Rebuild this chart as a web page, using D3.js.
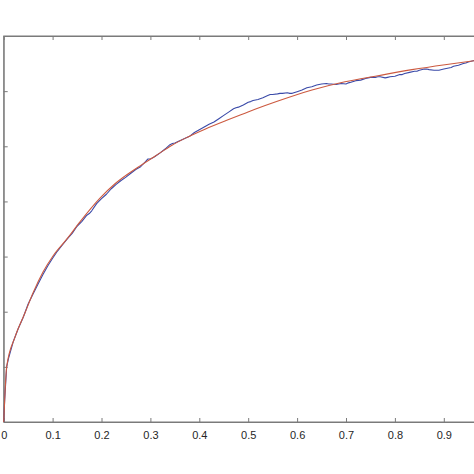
<!DOCTYPE html>
<html>
<head>
<meta charset="utf-8">
<script src="https://cdn.jsdelivr.net/npm/d3@7"></script>
<style>
  html, body { margin: 0; padding: 0; background: #fff; overflow: hidden; }
  svg { display: block; }
</style>
</head>
<body>
<svg id="chart" width="474" height="474"></svg>
<script>
// ---- data ----
const xTicks = [0, 0.1, 0.2, 0.3, 0.4, 0.5, 0.6, 0.7, 0.8, 0.9];
const xTickLabels = ["0", "0.1", "0.2", "0.3", "0.4", "0.5", "0.6", "0.7", "0.8", "0.9"];
const yTicks = [0, 1, 2, 3, 4, 5, 6, 7];

// fitted (smooth, red) curve
const fitX = [0, 0.002, 0.0061, 0.0231, 0.0436, 0.0599, 0.0804, 0.1008, 0.1294, 0.156, 0.1969,
  0.2276, 0.2746, 0.3094, 0.3441, 0.3769, 0.4116, 0.4587, 0.4935, 0.5139, 0.5609, 0.6305,
  0.6979, 0.7654, 0.8349, 0.9024, 0.9618, 0.98];
const fitY = [0, 0.40, 1.00, 1.54, 1.98, 2.34, 2.72, 3.01, 3.32, 3.63, 4.06,
  4.32, 4.62, 4.82, 5.02, 5.17, 5.31, 5.48, 5.60, 5.67, 5.82, 6.02,
  6.17, 6.28, 6.39, 6.48, 6.55, 6.57];

// measured (noisy, blue) curve
const measX = [0, 0.002, 0.006, 0.01, 0.02, 0.03, 0.04, 0.05, 0.06, 0.07, 0.08, 0.09,
  0.10, 0.11, 0.12, 0.13, 0.14, 0.15, 0.16, 0.17, 0.175, 0.18, 0.19, 0.20, 0.21, 0.22, 0.23,
  0.24, 0.25, 0.26, 0.27, 0.28, 0.29, 0.295, 0.30, 0.305, 0.31, 0.32, 0.33, 0.34, 0.345, 0.35,
  0.36, 0.37, 0.38, 0.39, 0.40, 0.41, 0.42, 0.43, 0.44, 0.45, 0.46, 0.47, 0.475, 0.48, 0.49,
  0.50, 0.505, 0.51, 0.52, 0.53, 0.54, 0.545, 0.55, 0.56, 0.565, 0.57, 0.58, 0.585, 0.59, 0.60,
  0.61, 0.62, 0.63, 0.64, 0.65, 0.66, 0.665, 0.67, 0.68, 0.685, 0.69, 0.70, 0.705, 0.71, 0.72,
  0.73, 0.74, 0.745, 0.75, 0.76, 0.765, 0.77, 0.78, 0.785, 0.79, 0.80, 0.81, 0.815, 0.82, 0.83,
  0.84, 0.845, 0.85, 0.86, 0.865, 0.87, 0.88, 0.885, 0.89, 0.90, 0.91, 0.915, 0.92, 0.93,
  0.94, 0.945, 0.95, 0.96, 0.97];
const measY = [0, 0.40, 1.00, 1.16, 1.47, 1.70, 1.90, 2.14, 2.32, 2.50, 2.67, 2.83,
  2.97, 3.10, 3.21, 3.32, 3.42, 3.55, 3.64, 3.75, 3.78, 3.83, 3.96, 4.05, 4.13, 4.23, 4.31,
  4.38, 4.44, 4.51, 4.58, 4.63, 4.72, 4.77, 4.77, 4.79, 4.82, 4.88, 4.95, 5.03, 5.05, 5.06,
  5.10, 5.14, 5.18, 5.25, 5.30, 5.35, 5.40, 5.44, 5.50, 5.56, 5.62, 5.68, 5.70, 5.71, 5.75,
  5.80, 5.81, 5.83, 5.85, 5.88, 5.92, 5.94, 5.94, 5.95, 5.96, 5.96, 5.97, 5.96, 5.96, 5.99,
  6.02, 6.06, 6.08, 6.11, 6.13, 6.14, 6.13, 6.13, 6.12, 6.13, 6.14, 6.13, 6.15, 6.16, 6.19,
  6.20, 6.23, 6.24, 6.25, 6.25, 6.26, 6.26, 6.24, 6.25, 6.26, 6.27, 6.30, 6.30, 6.32, 6.34,
  6.36, 6.36, 6.38, 6.40, 6.40, 6.39, 6.38, 6.38, 6.38, 6.40, 6.42, 6.43, 6.45, 6.47,
  6.50, 6.51, 6.53, 6.55, 6.57];

// ---- layout ----
const svg = d3.select("#chart");
const x = d3.scaleLinear().domain([0, 1]).range([3.7, 492.7]);
const y = d3.scaleLinear().domain([0, 7]).range([422, 36]);

const axisColor = "#7a7a7a";
const textColor = "#262626";
const font = "'Liberation Sans', Arial, Helvetica, sans-serif";

// frame
svg.append("rect")
  .attr("x", x(0)).attr("y", y(7))
  .attr("width", x(1) - x(0)).attr("height", y(0) - y(7))
  .attr("fill", "none").attr("stroke", axisColor).attr("stroke-width", 1);

// bottom axis (ticks inward)
const gx = svg.append("g").attr("transform", `translate(0,${y(0)})`)
  .call(d3.axisBottom(x).tickValues(xTicks)
    .tickFormat((d, i) => xTickLabels[i]).tickSizeInner(-4).tickSizeOuter(0).tickPadding(9));
gx.select(".domain").attr("stroke", axisColor);
gx.selectAll(".tick line").attr("stroke", axisColor);
gx.selectAll(".tick text").attr("fill", textColor).style("font-family", font).style("font-size", "11px");

// top axis ticks
const gt = svg.append("g").attr("transform", `translate(0,${y(7)})`)
  .call(d3.axisTop(x).tickValues(xTicks).tickFormat("").tickSizeInner(-4).tickSizeOuter(0));
gt.select(".domain").attr("stroke", axisColor);
gt.selectAll(".tick line").attr("stroke", axisColor);

// left axis ticks (labels fall outside the cropped view)
const gy = svg.append("g").attr("transform", `translate(${x(0)},0)`)
  .call(d3.axisLeft(y).tickValues(yTicks).tickFormat("").tickSizeInner(-4).tickSizeOuter(0));
gy.select(".domain").attr("stroke", axisColor);
gy.selectAll(".tick line").attr("stroke", axisColor);

// curves
const meas = measX.map((v, i) => [v, measY[i]]);
const fit = fitX.map((v, i) => [v, fitY[i]]);

const lineLinear = d3.line().x(d => x(d[0])).y(d => y(d[1]));
const lineSmooth = d3.line().x(d => x(d[0])).y(d => y(d[1])).curve(d3.curveMonotoneX);

svg.append("path").datum(meas)
  .attr("d", lineLinear).attr("fill", "none")
  .attr("stroke", "#3a4aa8").attr("stroke-width", 1.1).attr("stroke-linejoin", "round");

svg.append("path").datum(fit)
  .attr("d", lineSmooth).attr("fill", "none")
  .attr("stroke", "#cc5a40").attr("stroke-width", 1.1);
</script>
</body>
</html>
